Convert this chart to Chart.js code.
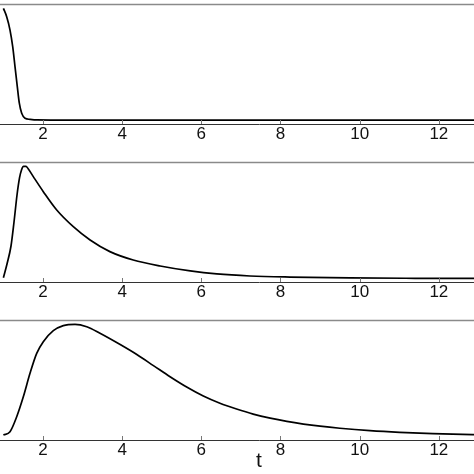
<!DOCTYPE html>
<html>
<head>
<meta charset="utf-8">
<script src="https://cdn.jsdelivr.net/npm/chart.js@4.4.1/dist/chart.umd.min.js"></script>
<style>
  html, body { margin: 0; padding: 0; background: #fff; overflow: hidden; width: 474px; height: 474px; }
  #wrap { width: 518px; }
  canvas { display: block; }
</style>
</head>
<body>
<div id="wrap">
  <canvas id="c1" width="518" height="158"></canvas>
  <canvas id="c2" width="518" height="158"></canvas>
  <canvas id="c3" width="518" height="158"></canvas>
</div>
<script>
// ---- data (normalised values) ----
const tickLabels = [2, 4, 6, 8, 10, 12];
const xTitle = 't';

const t1 = [1.0, 1.083, 1.167, 1.235, 1.293, 1.351, 1.402, 1.462, 1.546, 1.672, 1.85, 2.2, 3.0, 5.0, 8.0, 11.0, 14.0];
const v1 = [0.964, 0.894, 0.783, 0.644, 0.478, 0.311, 0.173, 0.089, 0.048, 0.039, 0.034, 0.033, 0.033, 0.033, 0.033, 0.033, 0.033];

const t2 = [1.0, 1.091, 1.192, 1.268, 1.344, 1.407, 1.457, 1.508, 1.571, 1.621, 1.755, 2.008, 2.347, 2.766, 3.19, 3.69, 4.28, 4.96, 5.72, 6.39, 7.23, 8.24, 9.75, 11.4, 12.85, 14.0];
const v2 = [0.036, 0.15, 0.30, 0.50, 0.725, 0.867, 0.933, 0.963, 0.963, 0.946, 0.878, 0.753, 0.60, 0.461, 0.35, 0.253, 0.183, 0.133, 0.092, 0.067, 0.050, 0.041, 0.034, 0.031, 0.030, 0.030];

const t3 = [1.0, 1.167, 1.336, 1.503, 1.672, 1.841, 2.008, 2.261, 2.513, 2.809, 3.105, 3.44, 3.95, 4.37, 4.79, 5.21, 5.63, 6.05, 6.47, 6.89, 7.31, 7.74, 8.16, 8.58, 9.0, 9.5, 10.26, 11.01, 11.85, 12.85, 14.0];
const v3 = [0.042, 0.069, 0.194, 0.36, 0.556, 0.722, 0.819, 0.911, 0.953, 0.964, 0.944, 0.889, 0.795, 0.712, 0.62, 0.527, 0.441, 0.366, 0.306, 0.258, 0.216, 0.182, 0.155, 0.133, 0.115, 0.098, 0.078, 0.064, 0.053, 0.045, 0.040];

const FONT = "'Liberation Sans', Arial, Helvetica, sans-serif";

// top frame line + inward ticks
const framePlugin = {
  id: 'frame',
  afterDraw(chart) {
    const { ctx, chartArea } = chart;
    const xs = chart.scales.x;
    ctx.save();
    ctx.strokeStyle = '#8a8a8a';
    ctx.lineWidth = 1.3;
    ctx.beginPath();
    ctx.moveTo(0, chartArea.top + 0.5);
    ctx.lineTo(chart.width, chartArea.top + 0.5);
    ctx.stroke();
    ctx.strokeStyle = '#777';
    ctx.lineWidth = 1;
    tickLabels.forEach(v => {
      const px = Math.round(xs.getPixelForValue(v)) + 0.5;
      ctx.beginPath();
      ctx.moveTo(px, chartArea.bottom);
      ctx.lineTo(px, chartArea.bottom - 4);
      ctx.stroke();
    });
    ctx.restore();
  }
};

function makePanel(id, ts, vs, showTitle) {
  const data = ts.map((t, i) => ({ x: t, y: vs[i] }));
  return new Chart(document.getElementById(id), {
    type: 'line',
    data: {
      datasets: [{
        data: data,
        borderColor: '#000',
        borderWidth: 1.7,
        pointRadius: 0,
        fill: false,
        cubicInterpolationMode: 'monotone',
        clip: false
      }]
    },
    options: {
      responsive: false,
      animation: false,
      events: [],
      layout: { padding: { top: 4, left: 0, right: 0, bottom: 0 } },
      plugins: { legend: { display: false }, tooltip: { enabled: false } },
      scales: {
        x: {
          type: 'linear',
          min: 0.914,
          max: 14,
          afterBuildTicks(scale) { scale.ticks = tickLabels.map(v => ({ value: v })); },
          afterFit(scale) { scale.height = 34; },
          grid: { display: false, drawTicks: false },
          border: { display: true, color: '#333', width: 1 },
          ticks: {
            padding: 0,
            color: '#111',
            font: { family: FONT, size: 17 },
            maxRotation: 0,
            autoSkip: false
          },
          title: {
            display: showTitle,
            text: xTitle,
            color: '#111',
            font: { family: FONT, size: 21 },
            padding: { top: 0, bottom: 0 }
          }
        },
        y: {
          display: false,
          min: 0,
          max: 1
        }
      }
    },
    plugins: [framePlugin]
  });
}

makePanel('c1', t1, v1, false);
makePanel('c2', t2, v2, false);
makePanel('c3', t3, v3, true);
</script>
</body>
</html>
